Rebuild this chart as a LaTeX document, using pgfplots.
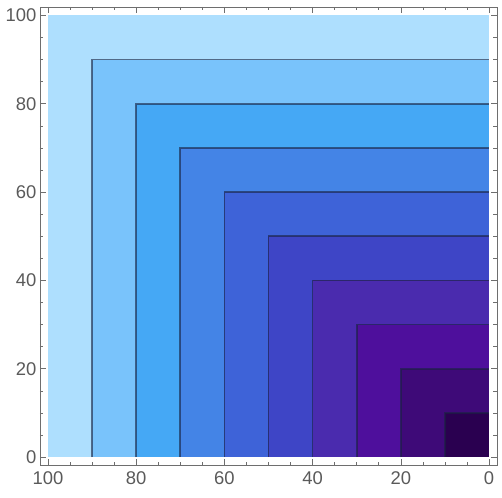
\documentclass[border=0pt]{standalone}
\usepackage{pgfplots}
\pgfplotsset{compat=1.18}
\usepackage{fontspec}
\setmainfont{Liberation Sans}
\definecolor{c0}{RGB}{174,223,254}
\definecolor{c1}{RGB}{121,195,251}
\definecolor{c2}{RGB}{69,168,245}
\definecolor{c3}{RGB}{68,132,230}
\definecolor{c4}{RGB}{62,99,216}
\definecolor{c5}{RGB}{62,69,198}
\definecolor{c6}{RGB}{74,43,174}
\definecolor{c7}{RGB}{78,15,156}
\definecolor{c8}{RGB}{62,10,120}
\definecolor{c9}{RGB}{42,0,80}
\definecolor{ctrc}{RGB}{25,35,65}
\definecolor{framec}{RGB}{110,110,110}
\definecolor{labc}{RGB}{90,90,90}
\begin{document}
\begin{tikzpicture}
\begin{axis}[name=ax, scale only axis, width=457bp, height=458bp,
  x dir=reverse, xmin=-1.8, xmax=101.8, ymin=-1.8, ymax=101.9,
  xtick={0,20,...,100}, ytick={0,20,...,100}, minor tick num=3,
  axis line style={framec}, tick style={framec, line width=0.6pt},
  major tick length=6bp, minor tick length=3.5bp,
  tick label style={font=\fontsize{18.5}{21}\selectfont, text=labc},
  xticklabel style={yshift=-3bp},
  /pgf/number format/assume math mode=true, axis on top,
  ctr/.style={draw=ctrc, draw opacity=0.62, line width=1.7pt, line join=miter}]
\addplot[fill=c0, draw=none] coordinates {(0,0) (100,0) (100,100) (0,100)} -- cycle;
\addplot[fill=c1, draw=none] coordinates {(0,0) (90,0) (90,90) (0,90)} -- cycle;
\addplot[fill=c2, draw=none] coordinates {(0,0) (80,0) (80,80) (0,80)} -- cycle;
\addplot[fill=c3, draw=none] coordinates {(0,0) (70,0) (70,70) (0,70)} -- cycle;
\addplot[fill=c4, draw=none] coordinates {(0,0) (60,0) (60,60) (0,60)} -- cycle;
\addplot[fill=c5, draw=none] coordinates {(0,0) (50,0) (50,50) (0,50)} -- cycle;
\addplot[fill=c6, draw=none] coordinates {(0,0) (40,0) (40,40) (0,40)} -- cycle;
\addplot[fill=c7, draw=none] coordinates {(0,0) (30,0) (30,30) (0,30)} -- cycle;
\addplot[fill=c8, draw=none] coordinates {(0,0) (20,0) (20,20) (0,20)} -- cycle;
\addplot[fill=c9, draw=none] coordinates {(0,0) (10,0) (10,10) (0,10)} -- cycle;
\addplot[ctr] coordinates {(90,0) (90,90) (0,90)};
\addplot[ctr] coordinates {(80,0) (80,80) (0,80)};
\addplot[ctr] coordinates {(70,0) (70,70) (0,70)};
\addplot[ctr] coordinates {(60,0) (60,60) (0,60)};
\addplot[ctr] coordinates {(50,0) (50,50) (0,50)};
\addplot[ctr] coordinates {(40,0) (40,40) (0,40)};
\addplot[ctr] coordinates {(30,0) (30,30) (0,30)};
\addplot[ctr] coordinates {(20,0) (20,20) (0,20)};
\addplot[ctr] coordinates {(10,0) (10,10) (0,10)};
\end{axis}
\path (ax.south west) ++(-40bp,-33bp);
\path (ax.north east) ++(5bp,7bp);
\end{tikzpicture}
\end{document}
